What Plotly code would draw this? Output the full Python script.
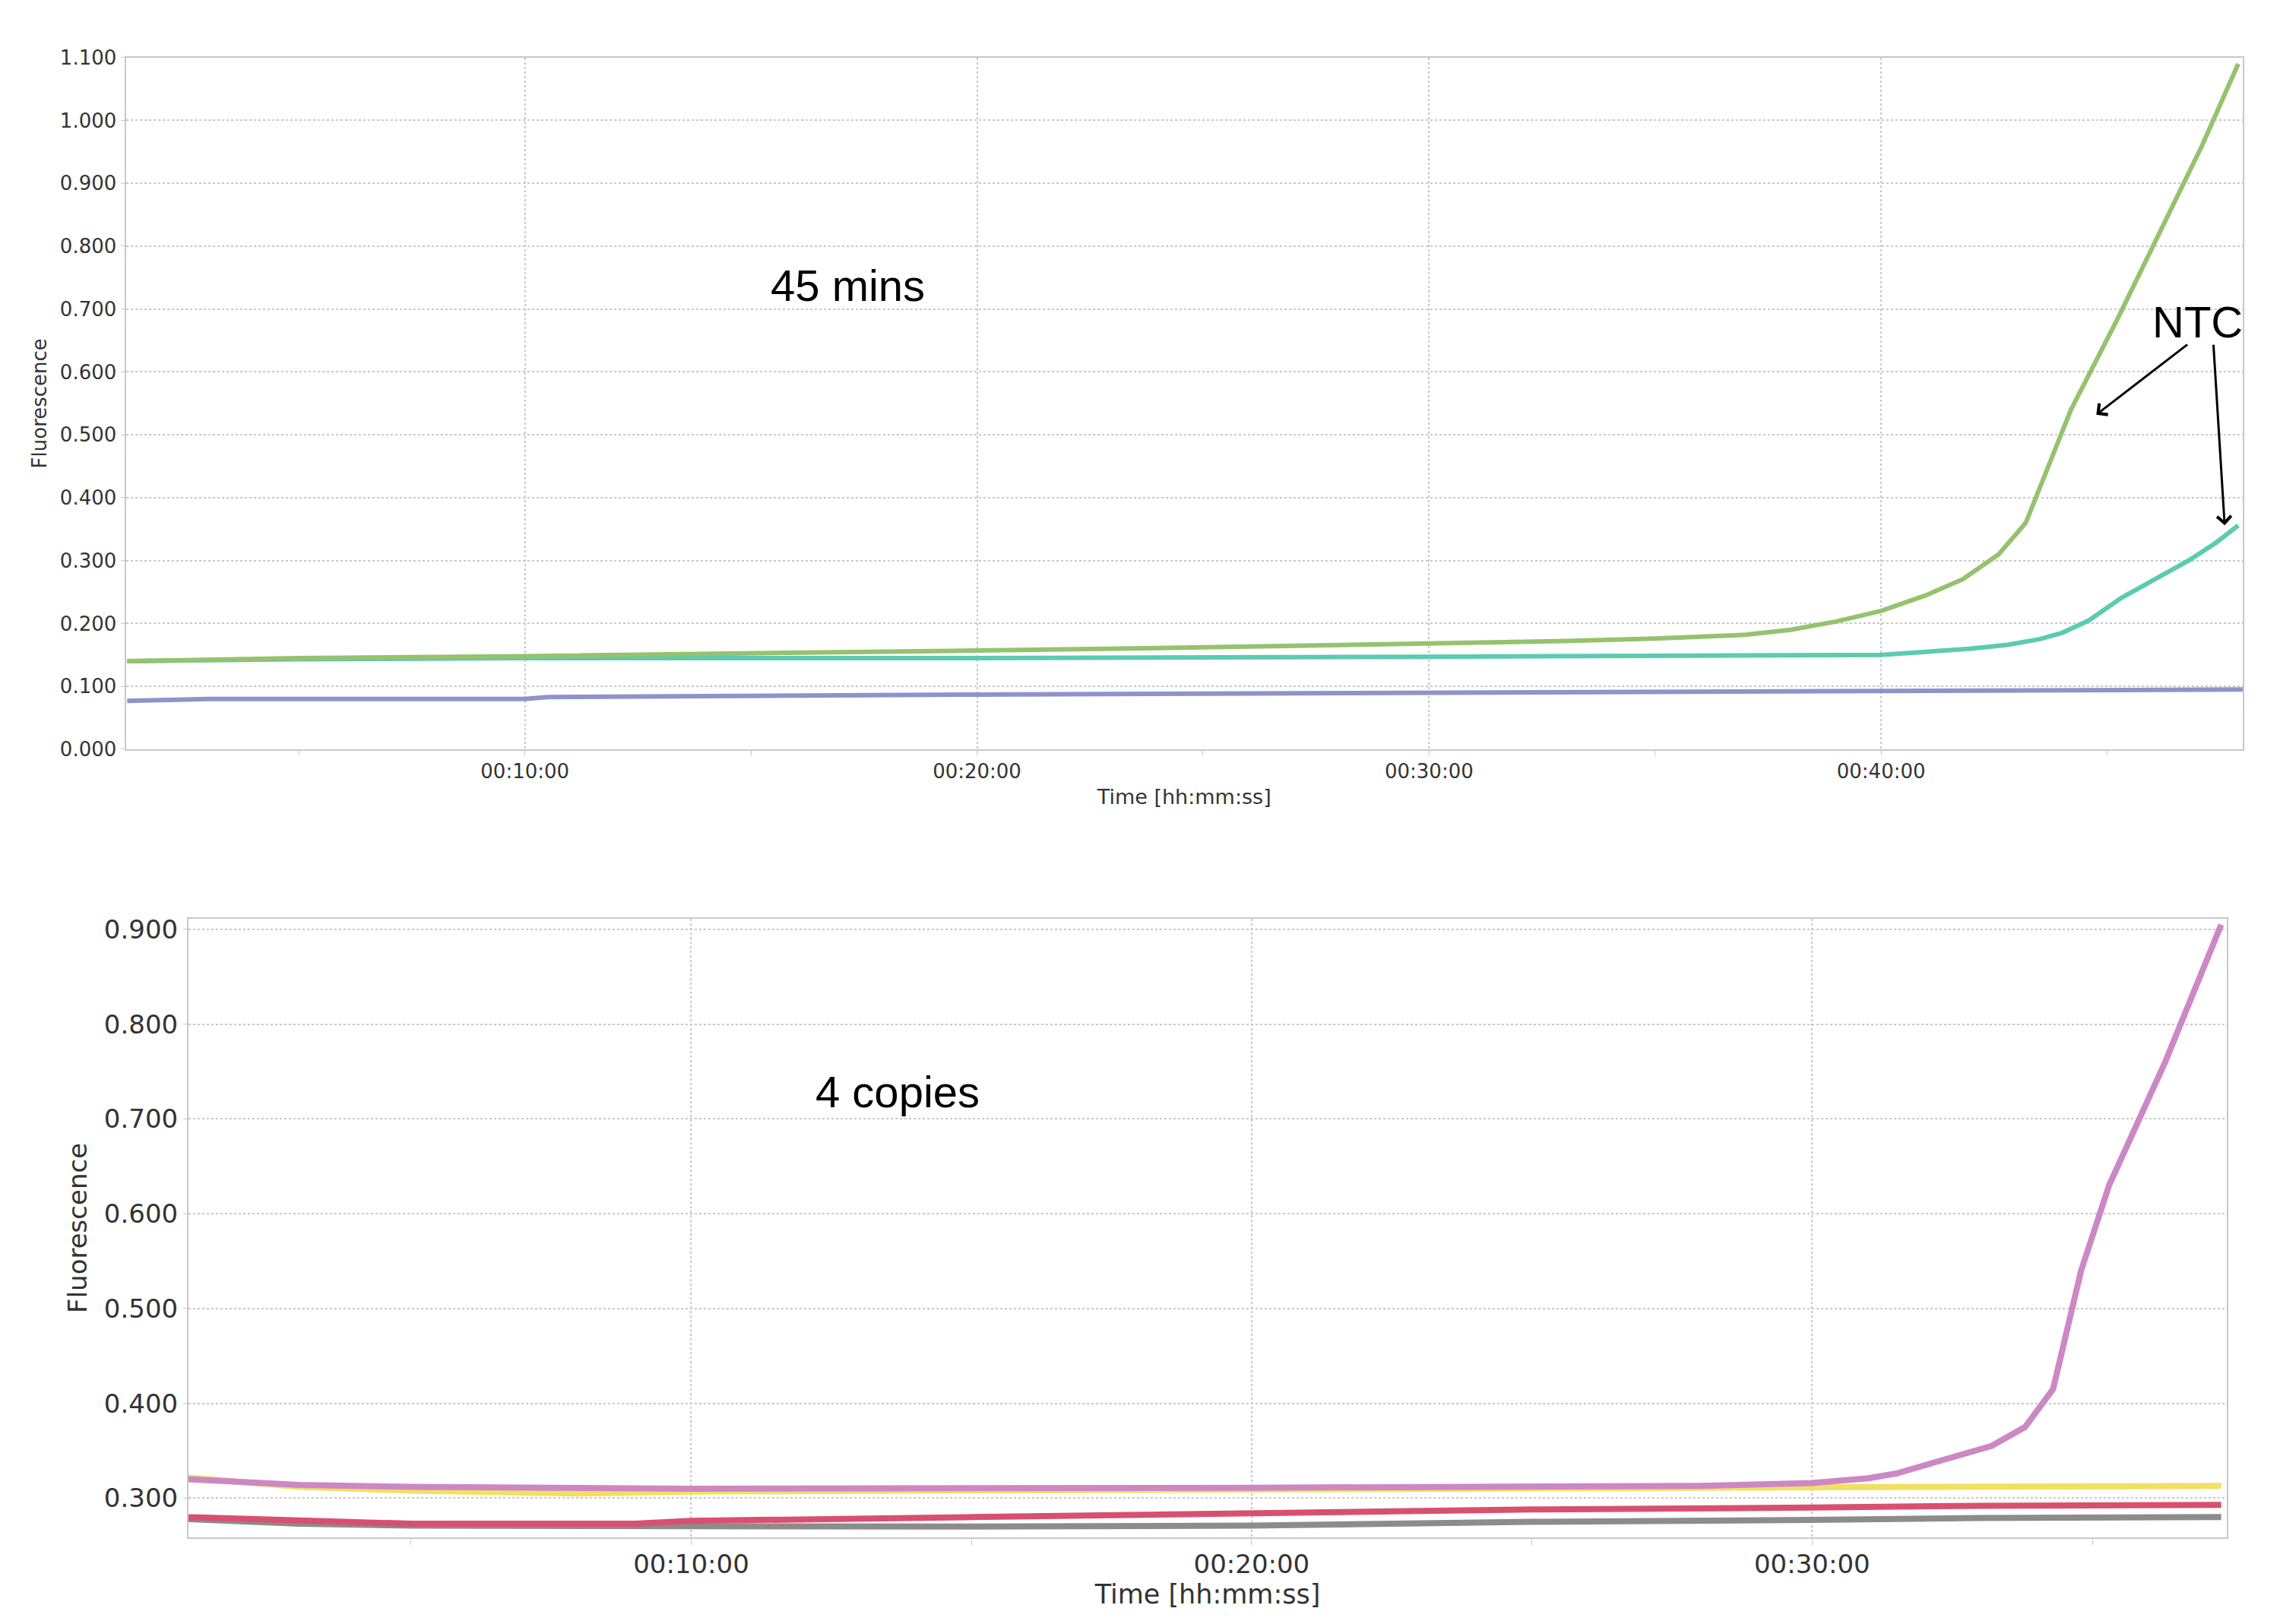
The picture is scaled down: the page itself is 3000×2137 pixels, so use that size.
import plotly.graph_objects as go

# top chart (minutes)
t_green = [1.2, 5, 10, 15, 20, 25, 30, 33, 35, 37, 38, 39, 40, 41, 41.8, 42.6, 43.2, 43.7, 44.2, 45.2, 46.3, 47.1, 47.9]
v_green = [0.140, 0.145, 0.148, 0.152, 0.157, 0.162, 0.168, 0.172, 0.176, 0.182, 0.19, 0.203, 0.22, 0.245, 0.27, 0.31, 0.36, 0.45, 0.54, 0.68, 0.84, 0.96, 1.09]
t_teal = [1.2, 5, 10, 20, 30, 38, 40, 41, 42, 42.8, 43.5, 44.0, 44.6, 45.3, 46.0, 46.8, 47.4, 47.9]
v_teal = [0.140, 0.143, 0.145, 0.145, 0.147, 0.148, 0.150, 0.155, 0.160, 0.166, 0.175, 0.185, 0.205, 0.240, 0.268, 0.300, 0.328, 0.356]
t_purple = [1.2, 3, 10, 10.5, 20, 30, 36, 40, 48]
v_purple = [0.077, 0.080, 0.080, 0.083, 0.087, 0.090, 0.092, 0.092, 0.095]

# bottom chart (minutes)
t_pink = [1.0, 3, 5, 10, 20, 28, 30, 31, 31.5, 32.3, 33.2, 33.8, 34.3, 34.8, 35.3, 36.3, 37.3]
v_pink = [0.320, 0.314, 0.312, 0.310, 0.311, 0.313, 0.316, 0.321, 0.326, 0.340, 0.355, 0.375, 0.415, 0.540, 0.630, 0.760, 0.905]
t_yellow = [1.0, 3, 5, 8, 10, 20, 30, 33, 35, 37.3]
v_yellow = [0.322, 0.312, 0.308, 0.305, 0.307, 0.309, 0.312, 0.311, 0.312, 0.313]
t_red = [1.0, 3, 5, 9, 10, 15, 20, 25, 30, 33, 37.3]
v_red = [0.280, 0.276, 0.273, 0.273, 0.276, 0.280, 0.284, 0.288, 0.290, 0.292, 0.293]
t_gray = [1.0, 3, 5, 10, 15, 20, 25, 30, 33, 37.3]
v_gray = [0.278, 0.273, 0.271, 0.270, 0.270, 0.271, 0.275, 0.277, 0.279, 0.280]

top_ticks = [10, 20, 30, 40]
bot_ticks = [10, 20, 30]
tick_text = {10: "00:10:00", 20: "00:20:00", 30: "00:30:00", 40: "00:40:00"}

fig = go.Figure()
for t, v, c in [(t_purple, v_purple, "#8f93c9"), (t_teal, v_teal, "#5ccbb0"), (t_green, v_green, "#96c26e")]:
    fig.add_trace(go.Scatter(x=t, y=v, mode="lines", line=dict(color=c, width=6), xaxis="x", yaxis="y"))
for t, v, c in [(t_gray, v_gray, "#8c8c8c"), (t_red, v_red, "#d9506e"), (t_yellow, v_yellow, "#f2e060"), (t_pink, v_pink, "#cc88c4")]:
    fig.add_trace(go.Scatter(x=t, y=v, mode="lines", line=dict(color=c, width=8), xaxis="x2", yaxis="y2"))

grid = dict(showgrid=True, gridcolor="#c8c8c8", griddash="dot", gridwidth=1.5, showline=True, linecolor="#c8c8c8",
            linewidth=2, mirror=True, zeroline=False, ticks="outside", tickcolor="#c8c8c8")

fig.update_layout(
    width=3000, height=2137, margin=dict(l=0, r=0, t=0, b=0), showlegend=False,
    paper_bgcolor="white", plot_bgcolor="white", font=dict(family="DejaVu Sans", color="#333"),
    xaxis=dict(domain=[0.0525, 0.981], anchor="y", range=[1.17, 48.0], tickvals=top_ticks,
               ticktext=[tick_text[k] for k in top_ticks], tickfont=dict(size=26),
               minor=dict(dtick=5, tick0=0, ticks="outside", tickcolor="#c8c8c8", ticklen=6, showgrid=False),
               title=dict(text="Time [hh:mm:ss]", font=dict(size=27), standoff=10), **grid),
    yaxis=dict(domain=[0.543, 0.975], anchor="x", range=[0, 1.1], dtick=0.1, tickformat=".3f",
               tickfont=dict(size=26), title=dict(text="Fluorescence", font=dict(size=26), standoff=10), **grid),
    xaxis2=dict(domain=[0.08, 0.974], anchor="y2", range=[1.03, 37.4], tickvals=bot_ticks,
                ticktext=[tick_text[k] for k in bot_ticks], tickfont=dict(size=34, family="DejaVu Sans"),
                minor=dict(dtick=5, tick0=0, ticks="outside", tickcolor="#c8c8c8", ticklen=8, showgrid=False),
                title=dict(text="Time [hh:mm:ss]", font=dict(size=35), standoff=8), **grid),
    yaxis2=dict(domain=[0.051, 0.437], anchor="x2", range=[0.259, 0.911], dtick=0.1, tickformat=".3f",
                tickfont=dict(size=34), title=dict(text="Fluorescence", font=dict(size=34), standoff=12), **grid),
)

fig.add_annotation(x=0.369, y=0.849, xref="paper", yref="paper", text="45 mins", showarrow=False, font=dict(size=58, family="Liberation Sans", color="black"))
fig.add_annotation(x=47.0, y=0.68, xref="x", yref="y", text="NTC", showarrow=False, font=dict(size=58, family="Liberation Sans", color="black"))
fig.add_annotation(x=44.76, y=0.532, ax=46.8, ay=0.645, xref="x", yref="y", axref="x", ayref="y", text="",
                   showarrow=True, arrowhead=4, arrowsize=1.2, arrowwidth=3, arrowcolor="black")
fig.add_annotation(x=47.6, y=0.356, ax=47.35, ay=0.645, xref="x", yref="y", axref="x", ayref="y", text="",
                   showarrow=True, arrowhead=4, arrowsize=1.2, arrowwidth=3, arrowcolor="black")
fig.add_annotation(x=0.391, y=0.313, xref="paper", yref="paper", text="4 copies", showarrow=False, font=dict(size=58, family="Liberation Sans", color="black"))

fig.write_html("out.html")
